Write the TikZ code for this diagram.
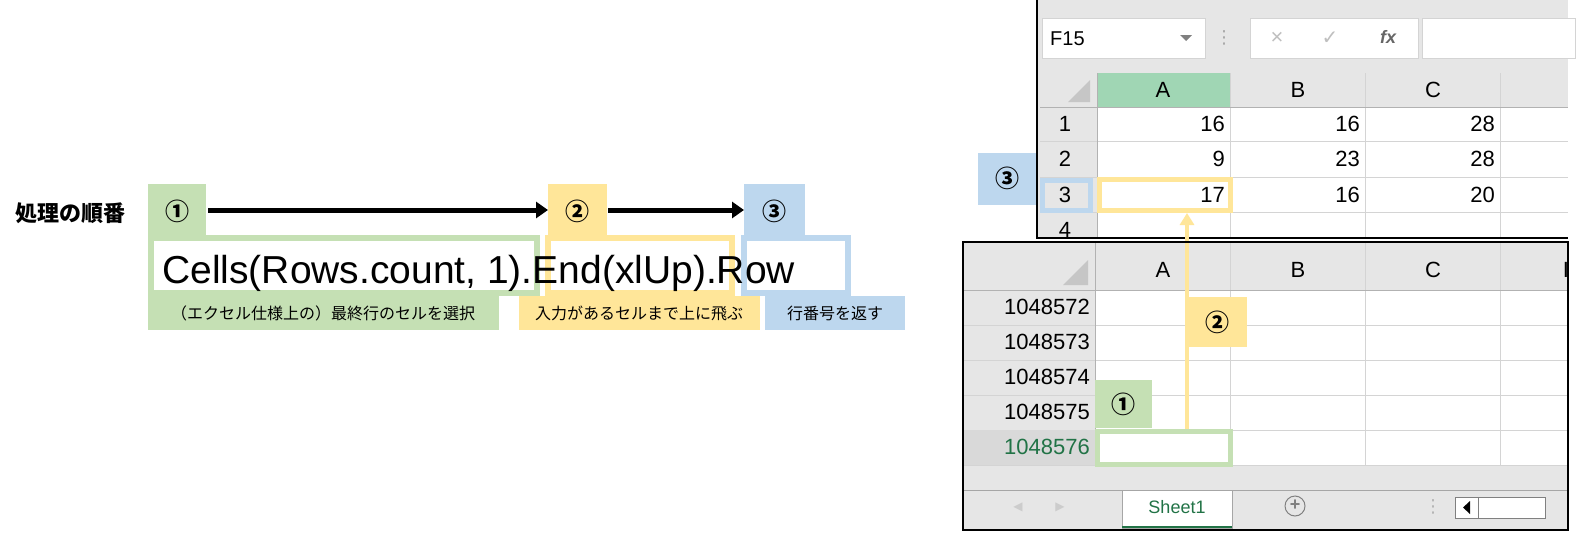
\documentclass[tikz,border=0pt]{standalone}
\usepackage{fontspec}
\setmainfont{Liberation Sans}
\newfontfamily\jp{Noto Sans CJK JP}
\newfontfamily\djsym{DejaVu Sans}
\usetikzlibrary{arrows.meta}
\definecolor{gfill}{HTML}{C5E0B4}
\definecolor{yfill}{HTML}{FFE699}
\definecolor{bfill}{HTML}{BDD7EE}
\definecolor{xlgray}{HTML}{E6E6E6}
\definecolor{xlline}{HTML}{D4D4D4}
\definecolor{xlsel}{HTML}{A0D6B4}
\definecolor{xlgreen}{HTML}{217346}
\tikzset{
 num/.style={font=\jp\bfseries\fontsize{24}{24}\selectfont, inner sep=0},
 lbl/.style={font=\jp\fontsize{16}{16}\selectfont, inner sep=0},
 cell/.style={font=\fontsize{22}{22}\selectfont, inner sep=0},
 arr/.style={line width=5pt, -{Triangle[length=12pt,width=16pt]}},
}
\begin{document}
\begin{tikzpicture}[x=1pt,y=-1pt]
\useasboundingbox (0,0) rectangle (1582,536);
% ---------- left ----------
\node[font=\jp\bfseries\fontsize{22}{22}\selectfont, anchor=west, inner sep=0] (title) at (15,213) {処理の順番};
\fill[gfill] (148,184) rectangle (206,235);
\node[num] (n1) at (177,211) {①};
\fill[yfill] (548,184) rectangle (607,235);
\node[num] (n2) at (577,211) {②};
\fill[bfill] (744,184) rectangle (805,235);
\node[num] (n3) at (774,211) {③};
\draw[gfill, line width=6pt] (151,238) rectangle (537,293);
\draw[yfill, line width=6pt] (548,238) rectangle (732,293);
\draw[bfill, line width=6pt] (744,238) rectangle (848,293);
\node[font=\fontsize{39}{39}\selectfont, anchor=base west, inner sep=0] (code) at (162,283) {Cells(Rows.count, 1).End(xlUp).Row};
\coordinate (a1) at (208,210);
\coordinate (a2) at (548,210);
\coordinate (a3) at (608,210);
\coordinate (a4) at (744,210);
\draw[arr] (a1) -- (a2);
\draw[arr] (a3) -- (a4);
\fill[gfill] (148,296) rectangle (499,330);
\node[lbl] (l1) at (323,313) {（エクセル仕様上の）最終行のセルを選択};
\fill[yfill] (519,296) rectangle (760,330);
\node[lbl] (l2) at (639,313) {入力があるセルまで上に飛ぶ};
\fill[bfill] (765,296) rectangle (905,330);
\node[lbl] (l3) at (835,313) {行番号を返す};
% ---------- top excel ----------
\fill[xlgray] (1037,0) rectangle (1568,238);
\fill[white,draw=xlline] (1042,18) rectangle (1205,58);
\node[font=\fontsize{20}{20}\selectfont, anchor=west, inner sep=0] (nb) at (1050,39) {F15};
\fill[gray] (1180,35) -- (1192,35) -- (1186,41) -- cycle;
\node[text=gray!70, font=\djsym\fontsize{18}{18}\selectfont, inner sep=0] (dots) at (1224,38) {⋮};
\fill[white,draw=xlline] (1250,18) rectangle (1418,58);
\node[text=gray!50, font=\fontsize{22}{22}\selectfont, inner sep=0] (xx) at (1277,38) {×};
\node[text=gray!50, font=\djsym\fontsize{20}{20}\selectfont, inner sep=0] (ck) at (1330,38) {✓};
\node[text=gray!80!black, font=\itshape\bfseries\fontsize{18}{18}\selectfont, inner sep=0] (fx) at (1388,37) {fx};
\fill[white,draw=xlline] (1422,18) rectangle (1575,58);
\fill[xlsel] (1097,73) rectangle (1230,107);
\fill[white] (1097,107) rectangle (1568,238);
\foreach \x in {1230,1365,1500} \draw[xlline] (\x,73) -- (\x,238);
\foreach \y in {141,177,212} \draw[xlline] (1040,\y) -- (1568,\y);
\draw[gray!60] (1040,107) -- (1568,107);
\draw[gray!60] (1097,73) -- (1097,238);
\fill[gray!45] (1090,80) -- (1090,102) -- (1068,102) -- cycle;
\node[cell] (hA) at (1163,90) {A};
\node[cell] (hB) at (1298,90) {B};
\node[cell] (hC) at (1433,90) {C};
\node[cell] (r1) at (1065,124) {1};
\node[cell] (r2) at (1065,159) {2};
\node[cell] (r3) at (1065,195) {3};
\node[cell] (r4) at (1065,230) {4};
\begin{scope}[every node/.style={cell, anchor=east}]
\node (c11) at (1225,124) {16}; \node (c12) at (1360,124) {16}; \node (c13) at (1495,124) {28};
\node (c21) at (1225,159) {9}; \node (c22) at (1360,159) {23}; \node (c23) at (1495,159) {28};
\node (c31) at (1225,195) {17}; \node (c32) at (1360,195) {16}; \node (c33) at (1495,195) {20};
\end{scope}
\fill[bfill] (978,153) rectangle (1037,205);
\node[num] (t3) at (1007,178) {③};
\draw[bfill, line width=5pt] (1042,180) rectangle (1090,210);
\draw[yfill, line width=5pt] (1099,179) rectangle (1230,210);
\draw[black, line width=1.5pt] (1037,0) -- (1037,238) -- (1568,238);
% ---------- bottom excel ----------
\fill[xlgray] (963,242) rectangle (1568,530);
\fill[white] (1095,290) rectangle (1568,465);
\foreach \x in {1230,1365,1500} \draw[xlline] (\x,242) -- (\x,465);
\foreach \y in {325,360,395,430,465} \draw[xlline] (963,\y) -- (1568,\y);
\draw[gray!60] (963,290) -- (1568,290);
\draw[gray!60] (1095,242) -- (1095,465);
\fill[gray!30] (963,430) rectangle (1095,465);
\fill[gray!45] (1088,260) -- (1088,285) -- (1063,285) -- cycle;
\node[cell] (bA) at (1163,270) {A};
\node[cell] (bB) at (1298,270) {B};
\node[cell] (bC) at (1433,270) {C};
\node[cell] (bD) at (1566,270) {I};
\node[cell, anchor=east] (b1) at (1090,307) {1048572};
\node[cell, anchor=east] (b2) at (1090,342) {1048573};
\node[cell, anchor=east] (b3) at (1090,377) {1048574};
\node[cell, anchor=east] (b4) at (1090,412) {1048575};
\node[cell, anchor=east, text=xlgreen] (b5) at (1090,447) {1048576};
\draw[gray!70] (963,490) -- (1568,490);
\fill[white, draw=gray!70] (1122,490) rectangle (1232,528);
\draw[xlgreen, line width=2pt] (1122,527) -- (1232,527);
\node[font=\fontsize{18}{18}\selectfont, text=xlgreen, inner sep=0] (tab) at (1177,507) {Sheet1};
\node[text=gray!40, font=\djsym\fontsize{12}{12}\selectfont, inner sep=0] (la) at (1018,507) {◀};
\node[text=gray!40, font=\djsym\fontsize{12}{12}\selectfont, inner sep=0] (ra) at (1060,507) {▶};
\draw[gray, line width=1pt] (1295,506) circle (10pt);
\node[text=gray, font=\bfseries\fontsize{18}{18}\selectfont, inner sep=0] (plus) at (1295,505) {+};
\node[text=gray!60, font=\djsym\fontsize{18}{18}\selectfont, inner sep=0] (d2) at (1433,507) {⋮};
\fill[white, draw=gray] (1455,497) rectangle (1545,518);
\draw[gray] (1478,497) -- (1478,518);
\fill[black] (1470,501) -- (1470,514) -- (1463,507.5) -- cycle;
\fill[gfill] (1095,380) rectangle (1152,428);
\node[num] (g1) at (1123,404) {①};
\draw[gfill, line width=5pt] (1097,431) rectangle (1230,464);
\fill[yfill] (1187,297) rectangle (1247,347);
\node[num] (y2) at (1217,322) {②};
\coordinate (ys) at (1187,429);
\coordinate (ye) at (1187,213);
\draw[yfill, line width=4pt, -{Triangle[length=12pt,width=14pt]}] (ys) -- (ye);
\draw[black, line width=1.5pt] (963,242) rectangle (1568,530);
\end{tikzpicture}
\end{document}
